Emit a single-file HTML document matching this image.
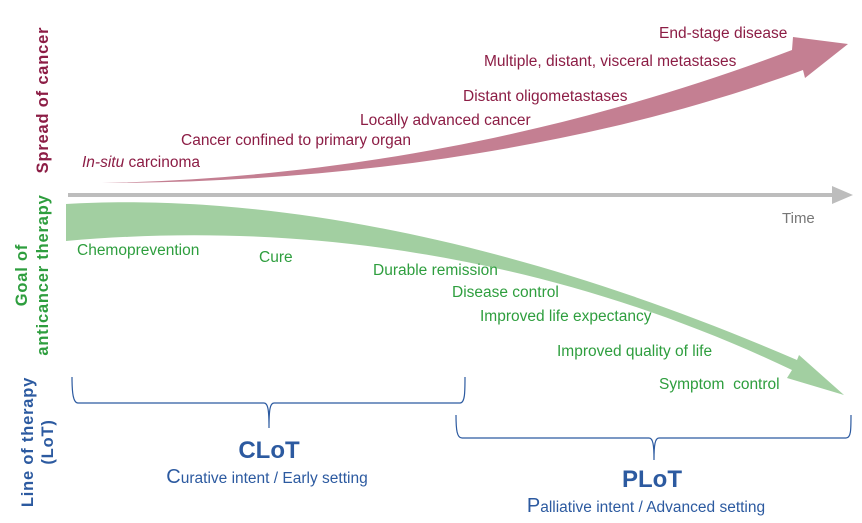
<!DOCTYPE html>
<html><head><meta charset="utf-8"><style>
html,body{margin:0;padding:0;background:#fff;}
svg{display:block;}
text{font-family:"Liberation Sans",Arial,sans-serif;}
.r{fill:#8c1d45;font-size:15.5px;}
.g{fill:#2e9e3e;font-size:15.5px;}
.b{fill:#2c5aa0;}
</style></head><body>
<svg width="862" height="523" viewBox="0 0 862 523" xmlns="http://www.w3.org/2000/svg">
<!-- red arrow -->
<path d="M102,183 C 350,178 580,130 792,50 L 793,37 L 848,44 L 805,78 L 803,70 C 600,145 350,183 102,183 Z" fill="#c47f92"/>
<!-- gray time arrow -->
<rect x="68" y="193" width="768" height="4" fill="#bdbdbd"/>
<path d="M832,186 L853,195 L832,204 Z" fill="#bdbdbd"/>
<!-- green arrow -->
<path d="M66,204 C 200,196 450,210 797,360 L 799,355 L 844,395 L 787,378 L 792,370 C 550,255 300,220 66,241 Z" fill="#a2cfa1"/>
<!-- brackets -->
<path d="M72,377 C72,392 73,403 78,403 L 264,403 C 268,403 269,410 269,428 C 269,410 270,403 274,403 L 460,403 C 465,403 465,392 465,377" fill="none" stroke="#2c5aa0" stroke-width="1.2"/>
<path d="M456,415 C456,430 457,438 462,438 L 649,438 C 653,438 654,445 654,460 C 654,445 655,438 659,438 L 846,438 C 851,438 851,430 851,415" fill="none" stroke="#2c5aa0" stroke-width="1.2"/>
<!-- red labels -->
<text class="r" x="82" y="167"><tspan font-style="italic">In-situ</tspan> carcinoma</text>
<text class="r" x="181" y="145">Cancer confined to primary organ</text>
<text class="r" x="360" y="125">Locally advanced cancer</text>
<text class="r" x="463" y="101">Distant oligometastases</text>
<text class="r" x="484" y="66">Multiple, distant, visceral metastases</text>
<text class="r" x="659" y="38">End-stage disease</text>
<text x="782" y="223" font-size="15" fill="#777">Time</text>
<!-- green labels -->
<text class="g" x="77" y="255">Chemoprevention</text>
<text class="g" x="259" y="262">Cure</text>
<text class="g" x="373" y="275">Durable remission</text>
<text class="g" x="452" y="297">Disease control</text>
<text class="g" x="480" y="321">Improved life expectancy</text>
<text class="g" x="557" y="356">Improved quality of life</text>
<text class="g" x="659" y="389">Symptom&#160; control</text>
<!-- blue labels -->
<text class="b" x="269" y="458" font-size="24" font-weight="bold" text-anchor="middle">CLoT</text>
<text class="b" x="267" y="483" font-size="15.5" text-anchor="middle"><tspan font-size="20">C</tspan>urative intent / Early setting</text>
<text class="b" x="652" y="487" font-size="24" font-weight="bold" text-anchor="middle">PLoT</text>
<text class="b" x="646" y="512" font-size="15.5" text-anchor="middle"><tspan font-size="20">P</tspan>alliative intent / Advanced setting</text>
<!-- vertical labels -->
<text transform="translate(48,100) rotate(-90)" text-anchor="middle" font-size="16.5" font-weight="bold" fill="#8c1d45" letter-spacing="0.8">Spread of cancer</text>
<text transform="translate(27,275) rotate(-90)" text-anchor="middle" font-size="16.5" font-weight="bold" fill="#2e9e3e" letter-spacing="0.8">Goal of</text>
<text transform="translate(48,275) rotate(-90)" text-anchor="middle" font-size="16.5" font-weight="bold" fill="#2e9e3e" letter-spacing="0.8">anticancer therapy</text>
<text transform="translate(33,442) rotate(-90)" text-anchor="middle" font-size="16.5" font-weight="bold" fill="#2c5aa0" letter-spacing="0.8">Line of therapy</text>
<text transform="translate(53,442) rotate(-90)" text-anchor="middle" font-size="16.5" font-weight="bold" fill="#2c5aa0" letter-spacing="0.8">(LoT)</text>
</svg>
</body></html>
